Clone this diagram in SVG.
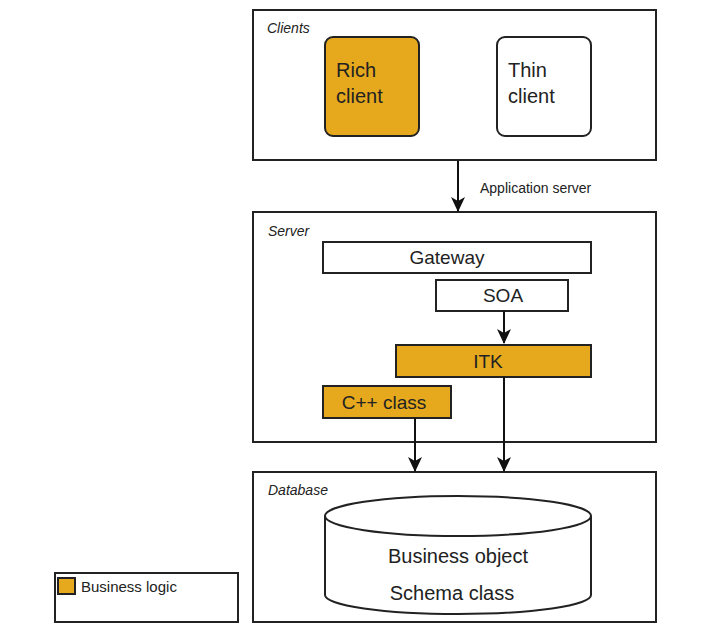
<svg xmlns="http://www.w3.org/2000/svg" width="720" height="636" viewBox="0 0 720 636">
<style>
.box{fill:#fff;stroke:#222;stroke-width:2}
.biz{fill:#e6a91e;stroke:#222;stroke-width:2}
.t{font-family:"Liberation Sans",Arial,sans-serif;fill:#222}
.lbl{font-family:"Liberation Sans",Arial,sans-serif;font-style:italic;font-size:14px;fill:#222}
.c{stroke:#111;stroke-width:2;fill:none;marker-end:url(#a)}
</style>
<defs><marker id="a" markerWidth="16" markerHeight="16" refX="14" refY="7" orient="auto" markerUnits="userSpaceOnUse"><path d="M0,0 L15,7 L0,14 L4,7 Z" fill="#111"/></marker></defs>
<rect width="720" height="636" fill="#fff"/>
<g id="clients"><rect class="box" x="253" y="10" width="403" height="150"/><text class="lbl" x="267" y="33">Clients</text></g>
<g id="rich"><rect class="biz" x="325" y="37" width="94" height="99" rx="8"/><text class="t" font-size="20" x="336" y="77">Rich</text><text class="t" font-size="20" x="336" y="103">client</text></g>
<g id="thin"><rect class="box" x="497" y="37" width="94" height="99" rx="8"/><text class="t" font-size="20" x="508" y="77">Thin</text><text class="t" font-size="20" x="508" y="103">client</text></g>
<g id="server"><rect class="box" x="253" y="212" width="403" height="230"/><text class="lbl" x="268" y="236">Server</text></g>
<g id="gateway"><rect class="box" x="323" y="242" width="268" height="31"/><text class="t" font-size="19" x="447" y="264" text-anchor="middle">Gateway</text></g>
<g id="soa"><rect class="box" x="436" y="280" width="132" height="31"/><text class="t" font-size="19" x="503" y="302" text-anchor="middle">SOA</text></g>
<g id="itk"><rect class="biz" x="396" y="345" width="195" height="32"/><text class="t" font-size="19" x="488" y="368" text-anchor="middle">ITK</text></g>
<g id="cpp"><rect class="biz" x="323" y="386" width="128" height="32"/><text class="t" font-size="19" x="384" y="409" text-anchor="middle">C++ class</text></g>
<g id="database"><rect class="box" x="253" y="472" width="403" height="150"/><text class="lbl" x="268" y="495">Database</text></g>
<g id="cylinder"><path class="box" d="M325,516 L325,595 A133,19 0 0 0 591,595 L591,516"/><ellipse class="box" cx="458" cy="516" rx="133" ry="20"/><text class="t" font-size="20" x="458" y="563" text-anchor="middle">Business object</text><text class="t" font-size="20" x="452" y="600" text-anchor="middle">Schema class</text></g>
<g id="legend"><rect class="box" x="55" y="573" width="183" height="49"/><rect class="biz" x="58" y="578" width="17" height="16" stroke-width="1"/><text class="t" font-size="15" x="81" y="592">Business logic</text></g>
<g id="connectors">
<line class="c" x1="458" y1="161" x2="458" y2="211"/>
<text class="t" font-size="14" x="480" y="193">Application server</text>
<line class="c" x1="504" y1="311" x2="504" y2="343"/>
<line class="c" x1="415" y1="418" x2="415" y2="471"/>
<line class="c" x1="504" y1="377" x2="504" y2="471"/>
</g>
</svg>
